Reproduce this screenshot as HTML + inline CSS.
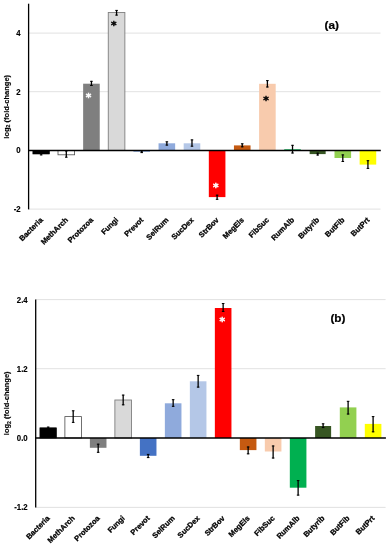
<!DOCTYPE html>
<html><head><meta charset="utf-8"><title>Figure</title>
<style>html,body{margin:0;padding:0;background:#fff}svg{display:block}</style></head>
<body>
<svg width="391" height="550" viewBox="0 0 391 550">
<rect width="391" height="550" fill="#fff"/>
<line x1="28.6" y1="33.1" x2="380.5" y2="33.1" stroke="#d9d9d9" stroke-width="0.8"/>
<line x1="28.6" y1="91.7" x2="380.5" y2="91.7" stroke="#d9d9d9" stroke-width="0.8"/>
<line x1="28.6" y1="209.1" x2="380.5" y2="209.1" stroke="#d9d9d9" stroke-width="0.8"/>
<rect x="32.87" y="150.40" width="16.60" height="3.60" fill="#000000" stroke="#000000" stroke-width="0.6"/>
<rect x="58.00" y="150.40" width="16.60" height="4.40" fill="#ffffff" stroke="#4d4d4d" stroke-width="0.8"/>
<rect x="83.14" y="83.70" width="16.60" height="66.70" fill="#7f7f7f"/>
<rect x="108.27" y="12.50" width="16.60" height="137.90" fill="#d9d9d9" stroke="#7f7f7f" stroke-width="0.9"/>
<rect x="133.41" y="150.40" width="16.60" height="1.10" fill="#4472c4"/>
<rect x="158.55" y="143.30" width="16.60" height="7.10" fill="#8faadc"/>
<rect x="183.68" y="143.30" width="16.60" height="7.10" fill="#b4c7e7"/>
<rect x="208.82" y="150.40" width="16.60" height="46.70" fill="#ff0000"/>
<rect x="233.95" y="145.40" width="16.60" height="5.00" fill="#c55a11"/>
<rect x="259.09" y="83.80" width="16.60" height="66.60" fill="#f8cbad"/>
<rect x="284.22" y="149.30" width="16.60" height="1.10" fill="#00b050"/>
<rect x="309.66" y="150.40" width="16.00" height="3.70" fill="#375623"/>
<rect x="334.50" y="150.40" width="16.60" height="7.60" fill="#92d050"/>
<rect x="359.63" y="150.40" width="16.60" height="14.20" fill="#ffff00"/>
<line x1="28.0" y1="150.4" x2="380.8" y2="150.4" stroke="#000" stroke-width="1.5"/>
<line x1="28.6" y1="3.7" x2="28.6" y2="209.4" stroke="#000" stroke-width="1.3"/>
<path d="M41.17 152.9V155.3" stroke="#000" stroke-width="1.3" fill="none"/><path d="M39.87 153.30h2.6M39.87 154.90h2.6" stroke="#000" stroke-width="1" fill="none"/>
<path d="M66.30 150.6V157.6" stroke="#000" stroke-width="1.3" fill="none"/><path d="M65.00 151.00h2.6M65.00 157.20h2.6" stroke="#000" stroke-width="1" fill="none"/>
<path d="M91.44 80.9V85.9" stroke="#000" stroke-width="1.3" fill="none"/><path d="M90.14 81.30h2.6M90.14 85.50h2.6" stroke="#000" stroke-width="1" fill="none"/>
<path d="M116.57 10.0V15.5" stroke="#000" stroke-width="1.3" fill="none"/><path d="M115.27 10.40h2.6M115.27 15.10h2.6" stroke="#000" stroke-width="1" fill="none"/>
<path d="M141.71 150.6V153.0" stroke="#000" stroke-width="1.3" fill="none"/><path d="M140.41 151.00h2.6M140.41 152.60h2.6" stroke="#000" stroke-width="1" fill="none"/>
<path d="M166.85 141.4V145.5" stroke="#000" stroke-width="1.3" fill="none"/><path d="M165.55 141.80h2.6M165.55 145.10h2.6" stroke="#000" stroke-width="1" fill="none"/>
<path d="M191.98 139.5V146.6" stroke="#000" stroke-width="1.3" fill="none"/><path d="M190.68 139.90h2.6M190.68 146.20h2.6" stroke="#000" stroke-width="1" fill="none"/>
<path d="M217.12 194.8V199.7" stroke="#000" stroke-width="1.3" fill="none"/><path d="M215.82 195.20h2.6M215.82 199.30h2.6" stroke="#000" stroke-width="1" fill="none"/>
<path d="M242.25 143.4V147.2" stroke="#000" stroke-width="1.3" fill="none"/><path d="M240.95 143.80h2.6M240.95 146.80h2.6" stroke="#000" stroke-width="1" fill="none"/>
<path d="M267.39 80.2V87.4" stroke="#000" stroke-width="1.3" fill="none"/><path d="M266.09 80.60h2.6M266.09 87.00h2.6" stroke="#000" stroke-width="1" fill="none"/>
<path d="M292.52 144.9V153.4" stroke="#000" stroke-width="1.3" fill="none"/><path d="M291.22 145.30h2.6M291.22 153.00h2.6" stroke="#000" stroke-width="1" fill="none"/>
<path d="M317.66 152.8V155.4" stroke="#000" stroke-width="1.3" fill="none"/><path d="M316.36 153.20h2.6M316.36 155.00h2.6" stroke="#000" stroke-width="1" fill="none"/>
<path d="M342.80 154.5V161.9" stroke="#000" stroke-width="1.3" fill="none"/><path d="M341.50 154.90h2.6M341.50 161.50h2.6" stroke="#000" stroke-width="1" fill="none"/>
<path d="M367.93 160.3V168.8" stroke="#000" stroke-width="1.3" fill="none"/><path d="M366.63 160.70h2.6M366.63 168.40h2.6" stroke="#000" stroke-width="1" fill="none"/>
<text transform="translate(20.6 36.05) scale(0.93 1)" text-anchor="end" font-size="8.4" stroke="#000" stroke-width="0.15" font-family="'Liberation Sans', sans-serif" font-weight="bold">4</text>
<text transform="translate(20.6 94.65) scale(0.93 1)" text-anchor="end" font-size="8.4" stroke="#000" stroke-width="0.15" font-family="'Liberation Sans', sans-serif" font-weight="bold">2</text>
<text transform="translate(20.6 153.35) scale(0.93 1)" text-anchor="end" font-size="8.4" stroke="#000" stroke-width="0.15" font-family="'Liberation Sans', sans-serif" font-weight="bold">0</text>
<text transform="translate(20.6 212.05) scale(0.93 1)" text-anchor="end" font-size="8.4" stroke="#000" stroke-width="0.15" font-family="'Liberation Sans', sans-serif" font-weight="bold">-2</text>
<text transform="translate(9.0 106.8) rotate(-90)" text-anchor="middle" font-size="7.5" stroke="#000" stroke-width="0.15" font-family="'Liberation Sans', sans-serif" font-weight="bold">log<tspan font-size="5.2" dy="1.4">2</tspan><tspan dy="-1.4"> (fold-change)</tspan></text>
<text transform="translate(43.37 220.5) rotate(-45)" text-anchor="end" font-size="7.55" stroke="#000" stroke-width="0.28" font-family="'Liberation Sans', sans-serif" font-weight="bold">Bacteria</text>
<text transform="translate(68.50 220.5) rotate(-45)" text-anchor="end" font-size="7.55" stroke="#000" stroke-width="0.28" font-family="'Liberation Sans', sans-serif" font-weight="bold">MethArch</text>
<text transform="translate(93.64 220.5) rotate(-45)" text-anchor="end" font-size="7.55" stroke="#000" stroke-width="0.28" font-family="'Liberation Sans', sans-serif" font-weight="bold">Protozoa</text>
<text transform="translate(118.77 220.5) rotate(-45)" text-anchor="end" font-size="7.55" stroke="#000" stroke-width="0.28" font-family="'Liberation Sans', sans-serif" font-weight="bold">Fungi</text>
<text transform="translate(143.91 220.5) rotate(-45)" text-anchor="end" font-size="7.55" stroke="#000" stroke-width="0.28" font-family="'Liberation Sans', sans-serif" font-weight="bold">Prevot</text>
<text transform="translate(169.05 220.5) rotate(-45)" text-anchor="end" font-size="7.55" stroke="#000" stroke-width="0.28" font-family="'Liberation Sans', sans-serif" font-weight="bold">SelRum</text>
<text transform="translate(194.18 220.5) rotate(-45)" text-anchor="end" font-size="7.55" stroke="#000" stroke-width="0.28" font-family="'Liberation Sans', sans-serif" font-weight="bold">SucDex</text>
<text transform="translate(219.32 220.5) rotate(-45)" text-anchor="end" font-size="7.55" stroke="#000" stroke-width="0.28" font-family="'Liberation Sans', sans-serif" font-weight="bold">StrBov</text>
<text transform="translate(244.45 220.5) rotate(-45)" text-anchor="end" font-size="7.55" stroke="#000" stroke-width="0.28" font-family="'Liberation Sans', sans-serif" font-weight="bold">MegEls</text>
<text transform="translate(269.59 220.5) rotate(-45)" text-anchor="end" font-size="7.55" stroke="#000" stroke-width="0.28" font-family="'Liberation Sans', sans-serif" font-weight="bold">FibSuc</text>
<text transform="translate(294.72 220.5) rotate(-45)" text-anchor="end" font-size="7.55" stroke="#000" stroke-width="0.28" font-family="'Liberation Sans', sans-serif" font-weight="bold">RumAlb</text>
<text transform="translate(319.86 220.5) rotate(-45)" text-anchor="end" font-size="7.55" stroke="#000" stroke-width="0.28" font-family="'Liberation Sans', sans-serif" font-weight="bold">Butyrib</text>
<text transform="translate(345.00 220.5) rotate(-45)" text-anchor="end" font-size="7.55" stroke="#000" stroke-width="0.28" font-family="'Liberation Sans', sans-serif" font-weight="bold">ButFib</text>
<text transform="translate(370.13 220.5) rotate(-45)" text-anchor="end" font-size="7.55" stroke="#000" stroke-width="0.28" font-family="'Liberation Sans', sans-serif" font-weight="bold">ButPrt</text>
<text x="88.5" y="101.25" text-anchor="middle" font-size="10.6" fill="#fff" font-family="'DejaVu Sans', sans-serif" font-weight="bold" stroke="#fff" stroke-width="0.45">*</text>
<text x="113.75" y="28.55" text-anchor="middle" font-size="10.6" fill="#000" font-family="'DejaVu Sans', sans-serif" font-weight="bold" stroke="#000" stroke-width="0.45">*</text>
<text x="215.7" y="191.25" text-anchor="middle" font-size="10.6" fill="#fff" font-family="'DejaVu Sans', sans-serif" font-weight="bold" stroke="#fff" stroke-width="0.45">*</text>
<text x="265.9" y="103.55" text-anchor="middle" font-size="10.6" fill="#000" font-family="'DejaVu Sans', sans-serif" font-weight="bold" stroke="#000" stroke-width="0.45">*</text>
<text x="324.6" y="28.8" font-size="11.8" stroke="#000" stroke-width="0.2" font-family="'Liberation Sans', sans-serif" font-weight="bold">(a)</text>
<line x1="35.7" y1="299.6" x2="385.6" y2="299.6" stroke="#d9d9d9" stroke-width="0.8"/>
<line x1="35.7" y1="368.7" x2="385.6" y2="368.7" stroke="#d9d9d9" stroke-width="0.8"/>
<line x1="35.7" y1="507.4" x2="385.6" y2="507.4" stroke="#d9d9d9" stroke-width="0.8"/>
<rect x="39.90" y="427.80" width="16.60" height="10.20" fill="#000000" stroke="#000000" stroke-width="0.6"/>
<rect x="64.89" y="416.60" width="16.60" height="21.40" fill="#ffffff" stroke="#4d4d4d" stroke-width="0.8"/>
<rect x="89.88" y="438.00" width="16.60" height="9.80" fill="#7f7f7f"/>
<rect x="114.88" y="400.00" width="16.60" height="38.00" fill="#d9d9d9" stroke="#7f7f7f" stroke-width="0.9"/>
<rect x="139.87" y="438.00" width="16.60" height="17.80" fill="#4472c4"/>
<rect x="164.86" y="403.30" width="16.60" height="34.70" fill="#8faadc"/>
<rect x="189.85" y="381.30" width="16.60" height="56.70" fill="#b4c7e7"/>
<rect x="214.85" y="308.00" width="16.60" height="130.00" fill="#ff0000"/>
<rect x="239.84" y="438.00" width="16.60" height="12.10" fill="#c55a11"/>
<rect x="264.83" y="438.00" width="16.60" height="13.50" fill="#f8cbad"/>
<rect x="289.82" y="438.00" width="16.60" height="49.70" fill="#00b050"/>
<rect x="315.12" y="426.00" width="16.00" height="12.00" fill="#375623"/>
<rect x="339.81" y="407.40" width="16.60" height="30.60" fill="#92d050"/>
<rect x="364.80" y="423.90" width="16.60" height="14.10" fill="#ffff00"/>
<line x1="35.1" y1="438.0" x2="385.90000000000003" y2="438.0" stroke="#000" stroke-width="1.5"/>
<line x1="35.7" y1="299.4" x2="35.7" y2="507.6" stroke="#000" stroke-width="1.3"/>
<path d="M48.20 426.7V429.0" stroke="#000" stroke-width="1.3" fill="none"/><path d="M46.90 427.10h2.6M46.90 428.60h2.6" stroke="#000" stroke-width="1" fill="none"/>
<path d="M73.19 410.4V422.8" stroke="#000" stroke-width="1.3" fill="none"/><path d="M71.89 410.80h2.6M71.89 422.40h2.6" stroke="#000" stroke-width="1" fill="none"/>
<path d="M98.18 443.8V452.7" stroke="#000" stroke-width="1.3" fill="none"/><path d="M96.88 444.20h2.6M96.88 452.30h2.6" stroke="#000" stroke-width="1" fill="none"/>
<path d="M123.18 394.7V405.2" stroke="#000" stroke-width="1.3" fill="none"/><path d="M121.88 395.10h2.6M121.88 404.80h2.6" stroke="#000" stroke-width="1" fill="none"/>
<path d="M148.17 454.0V458.0" stroke="#000" stroke-width="1.3" fill="none"/><path d="M146.87 454.40h2.6M146.87 457.60h2.6" stroke="#000" stroke-width="1" fill="none"/>
<path d="M173.16 399.3V406.7" stroke="#000" stroke-width="1.3" fill="none"/><path d="M171.86 399.70h2.6M171.86 406.30h2.6" stroke="#000" stroke-width="1" fill="none"/>
<path d="M198.15 375.0V387.5" stroke="#000" stroke-width="1.3" fill="none"/><path d="M196.85 375.40h2.6M196.85 387.10h2.6" stroke="#000" stroke-width="1" fill="none"/>
<path d="M223.15 303.1V311.8" stroke="#000" stroke-width="1.3" fill="none"/><path d="M221.85 303.50h2.6M221.85 311.40h2.6" stroke="#000" stroke-width="1" fill="none"/>
<path d="M248.14 446.6V454.2" stroke="#000" stroke-width="1.3" fill="none"/><path d="M246.84 447.00h2.6M246.84 453.80h2.6" stroke="#000" stroke-width="1" fill="none"/>
<path d="M273.13 445.6V458.4" stroke="#000" stroke-width="1.3" fill="none"/><path d="M271.83 446.00h2.6M271.83 458.00h2.6" stroke="#000" stroke-width="1" fill="none"/>
<path d="M298.12 480.2V495.5" stroke="#000" stroke-width="1.3" fill="none"/><path d="M296.82 480.60h2.6M296.82 495.10h2.6" stroke="#000" stroke-width="1" fill="none"/>
<path d="M323.12 423.4V428.0" stroke="#000" stroke-width="1.3" fill="none"/><path d="M321.82 423.80h2.6M321.82 427.60h2.6" stroke="#000" stroke-width="1" fill="none"/>
<path d="M348.11 400.9V414.4" stroke="#000" stroke-width="1.3" fill="none"/><path d="M346.81 401.30h2.6M346.81 414.00h2.6" stroke="#000" stroke-width="1" fill="none"/>
<path d="M373.10 416.2V432.2" stroke="#000" stroke-width="1.3" fill="none"/><path d="M371.80 416.60h2.6M371.80 431.80h2.6" stroke="#000" stroke-width="1" fill="none"/>
<text transform="translate(27.7 302.55) scale(0.93 1)" text-anchor="end" font-size="8.4" stroke="#000" stroke-width="0.15" font-family="'Liberation Sans', sans-serif" font-weight="bold">2.4</text>
<text transform="translate(27.7 371.65) scale(0.93 1)" text-anchor="end" font-size="8.4" stroke="#000" stroke-width="0.15" font-family="'Liberation Sans', sans-serif" font-weight="bold">1.2</text>
<text transform="translate(27.7 440.95) scale(0.93 1)" text-anchor="end" font-size="8.4" stroke="#000" stroke-width="0.15" font-family="'Liberation Sans', sans-serif" font-weight="bold">0.0</text>
<text transform="translate(27.7 510.35) scale(0.93 1)" text-anchor="end" font-size="8.4" stroke="#000" stroke-width="0.15" font-family="'Liberation Sans', sans-serif" font-weight="bold">-1.2</text>
<text transform="translate(9.4 403.3) rotate(-90)" text-anchor="middle" font-size="7.5" stroke="#000" stroke-width="0.15" font-family="'Liberation Sans', sans-serif" font-weight="bold">log<tspan font-size="5.2" dy="1.4">2</tspan><tspan dy="-1.4"> (fold-change)</tspan></text>
<text transform="translate(50.20 518.8) rotate(-45)" text-anchor="end" font-size="7.55" stroke="#000" stroke-width="0.28" font-family="'Liberation Sans', sans-serif" font-weight="bold">Bacteria</text>
<text transform="translate(75.19 518.8) rotate(-45)" text-anchor="end" font-size="7.55" stroke="#000" stroke-width="0.28" font-family="'Liberation Sans', sans-serif" font-weight="bold">MethArch</text>
<text transform="translate(100.18 518.8) rotate(-45)" text-anchor="end" font-size="7.55" stroke="#000" stroke-width="0.28" font-family="'Liberation Sans', sans-serif" font-weight="bold">Protozoa</text>
<text transform="translate(125.18 518.8) rotate(-45)" text-anchor="end" font-size="7.55" stroke="#000" stroke-width="0.28" font-family="'Liberation Sans', sans-serif" font-weight="bold">Fungi</text>
<text transform="translate(150.17 518.8) rotate(-45)" text-anchor="end" font-size="7.55" stroke="#000" stroke-width="0.28" font-family="'Liberation Sans', sans-serif" font-weight="bold">Prevot</text>
<text transform="translate(175.16 518.8) rotate(-45)" text-anchor="end" font-size="7.55" stroke="#000" stroke-width="0.28" font-family="'Liberation Sans', sans-serif" font-weight="bold">SelRum</text>
<text transform="translate(200.15 518.8) rotate(-45)" text-anchor="end" font-size="7.55" stroke="#000" stroke-width="0.28" font-family="'Liberation Sans', sans-serif" font-weight="bold">SucDex</text>
<text transform="translate(225.15 518.8) rotate(-45)" text-anchor="end" font-size="7.55" stroke="#000" stroke-width="0.28" font-family="'Liberation Sans', sans-serif" font-weight="bold">StrBov</text>
<text transform="translate(250.14 518.8) rotate(-45)" text-anchor="end" font-size="7.55" stroke="#000" stroke-width="0.28" font-family="'Liberation Sans', sans-serif" font-weight="bold">MegEls</text>
<text transform="translate(275.13 518.8) rotate(-45)" text-anchor="end" font-size="7.55" stroke="#000" stroke-width="0.28" font-family="'Liberation Sans', sans-serif" font-weight="bold">FibSuc</text>
<text transform="translate(300.12 518.8) rotate(-45)" text-anchor="end" font-size="7.55" stroke="#000" stroke-width="0.28" font-family="'Liberation Sans', sans-serif" font-weight="bold">RumAlb</text>
<text transform="translate(325.12 518.8) rotate(-45)" text-anchor="end" font-size="7.55" stroke="#000" stroke-width="0.28" font-family="'Liberation Sans', sans-serif" font-weight="bold">Butyrib</text>
<text transform="translate(350.11 518.8) rotate(-45)" text-anchor="end" font-size="7.55" stroke="#000" stroke-width="0.28" font-family="'Liberation Sans', sans-serif" font-weight="bold">ButFib</text>
<text transform="translate(375.10 518.8) rotate(-45)" text-anchor="end" font-size="7.55" stroke="#000" stroke-width="0.28" font-family="'Liberation Sans', sans-serif" font-weight="bold">ButPrt</text>
<text x="222.2" y="325.05" text-anchor="middle" font-size="10.6" fill="#fff" font-family="'DejaVu Sans', sans-serif" font-weight="bold" stroke="#fff" stroke-width="0.45">*</text>
<text x="330.4" y="321.6" font-size="11.8" stroke="#000" stroke-width="0.2" font-family="'Liberation Sans', sans-serif" font-weight="bold">(b)</text>
</svg>
</body></html>
